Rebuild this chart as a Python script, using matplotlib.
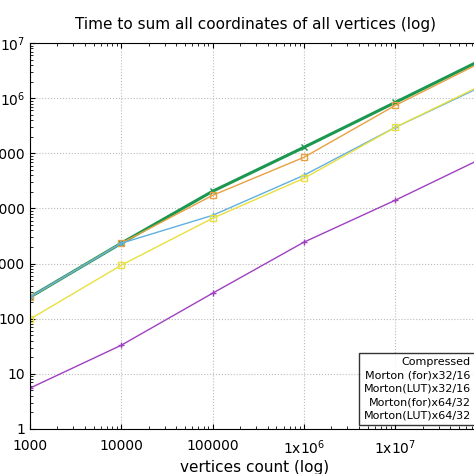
import matplotlib.pyplot as plt
from matplotlib.ticker import LogLocator, NullFormatter

vertices = [1e3, 1e4, 1e5, 1e6, 1e7, 1e8]
labels = ["Compressed", "Morton (for)x32/16", "Morton(LUT)x32/16", "Morton(for)x64/32", "Morton(LUT)x64/32"]
compressed = [5.5, 33, 290, 2450, 14100, 89000]
morton_for_32 = [246, 2340, 20500, 128500, 840000, 5500000]
morton_lut_32 = [246, 2340, 17300, 84700, 741000, 5000000]
morton_for_64 = [246, 2340, 7500, 40000, 296000, 1800000]
morton_lut_64 = [98, 935, 6640, 35200, 296000, 1900000]

series = [compressed, morton_for_32, morton_lut_32, morton_for_64, morton_lut_64]
colors = ["#a040c0", "#1a9850", "#e8a040", "#60b0e0", "#e8e040"]
markers = ["+", "x", "s", "+", "s"]
widths = [1, 2.2, 1, 1, 1]

fig = plt.figure(figsize=(4.74, 4.74), dpi=100)
ax = fig.add_axes([0.063, 0.095, 0.95, 0.814])
for vals, lab, c, m, w in zip(series, labels, colors, markers, widths):
    ax.plot(vertices, vals, color=c, marker=m, markersize=4, linewidth=w,
            markerfacecolor="none", label=lab)

ax.set_xscale("log")
ax.set_yscale("log")
ax.set_xlim(1e3, 10 ** 7.93)
ax.set_ylim(1, 1e7)
ax.set_xticks([1e3, 1e4, 1e5, 1e6, 1e7])
ax.set_xticklabels(["1000", "10000", "100000", r"1x10$^6$", r"1x10$^7$"], fontsize=10)
ax.set_yticks([1, 10, 100, 1000, 10000, 100000, 1e6, 1e7])
ax.set_yticklabels(["1", "10", "100", "1000", "10000", "100000", "1x10$^6$", "1x10$^7$"], fontsize=10)
ax.xaxis.set_minor_locator(LogLocator(subs=range(2, 10)))
ax.yaxis.set_minor_locator(LogLocator(subs=range(2, 10)))
ax.xaxis.set_minor_formatter(NullFormatter())
ax.yaxis.set_minor_formatter(NullFormatter())
ax.tick_params(direction="in", which="both", top=True, right=True)
ax.tick_params(axis="x", pad=7)
ax.grid(True, which="major", linestyle=":", color="#bbbbbb")
ax.set_xlabel("vertices count (log)", fontsize=11, labelpad=2)
ax.set_title("Time to sum all coordinates of all vertices (log)", fontsize=11, pad=10)

leg = ax.legend(loc="lower left", bbox_to_anchor=(359 / 474, 49 / 474),
                bbox_transform=fig.transFigure, markerfirst=False, fontsize=8,
                fancybox=False, edgecolor="black", handlelength=3,
                borderaxespad=0, labelspacing=0.3)
for t in leg.get_texts():
    t.set_ha("right")

fig.savefig("out.png", dpi=100)
